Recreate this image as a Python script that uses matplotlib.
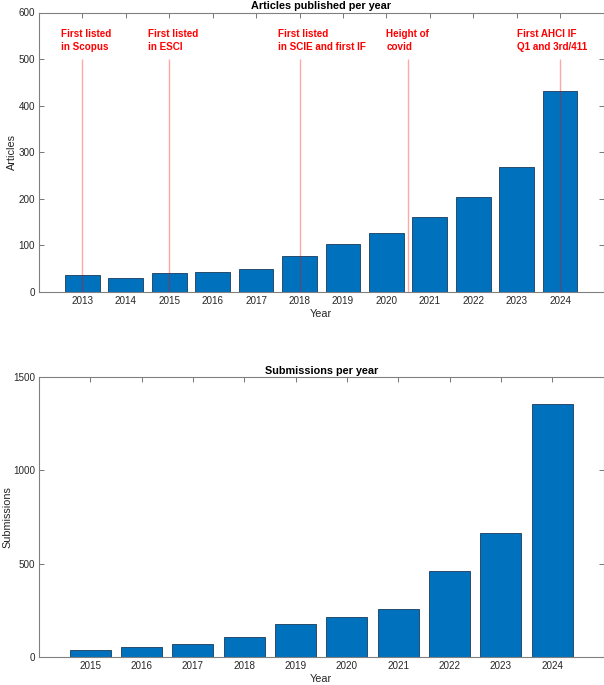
import matplotlib
matplotlib.use("Agg")
import matplotlib.pyplot as plt

plt.rcParams['font.family'] = ['Liberation Sans', 'DejaVu Sans']

# Data
art_years = [2013, 2014, 2015, 2016, 2017, 2018, 2019, 2020, 2021, 2022, 2023, 2024]
art_counts = [36, 29, 40, 44, 50, 77, 102, 126, 160, 204, 269, 431]

sub_years = [2015, 2016, 2017, 2018, 2019, 2020, 2021, 2022, 2023, 2024]
sub_counts = [36, 52, 70, 106, 174, 211, 258, 458, 664, 1358]

event_x = [2013, 2015, 2018, 2020.5, 2024]
event_top = 500
label_x = [2012.5, 2014.5, 2017.5, 2020.0, 2023.0]
label_texts = ["First listed\nin Scopus", "First listed\nin ESCI",
               "First listed\nin SCIE and first IF", "Height of\ncovid",
               "First AHCI IF\nQ1 and 3rd/411"]
label_y = 540

BLUE = '#0072BD'
AXC = '#262626'

fig = plt.figure(figsize=(6.04, 6.85), dpi=100)
W, H = 604, 685

def mkax(x0, y0, x1, y1):
    return fig.add_axes([x0 / W, 1 - y1 / H, (x1 - x0) / W, (y1 - y0) / H])

def style(ax):
    for s in ax.spines.values():
        s.set_color('#808080')
        s.set_linewidth(0.8)
    ax.tick_params(direction='in', top=True, right=True, length=3.5, width=0.6,
                   color='#606060', labelcolor=AXC, labelsize=7.1, pad=3)

ax1 = mkax(39, 12.5, 603.5, 292)
ax1.bar(art_years, art_counts, width=0.8, color=BLUE, edgecolor='#1a3a5a', linewidth=0.6, zorder=2)
ax1.vlines(event_x, 0, event_top, colors='red', alpha=0.35, linewidth=1.0, zorder=3)
for x, t in zip(label_x, label_texts):
    ax1.text(x, label_y, t, color='red', fontsize=7.1, fontweight='bold',
             ha='left', va='center', linespacing=1.4, zorder=4)
ax1.set_xlim(2012, 2025)
ax1.set_ylim(0, 600)
ax1.set_xticks(art_years)
ax1.set_yticks([0, 100, 200, 300, 400, 500, 600])
style(ax1)
ax1.set_title('Articles published per year', fontsize=7.8, fontweight='bold', pad=2.5)
ax1.set_xlabel('Year', fontsize=7.8, color=AXC, labelpad=2)
ax1.set_ylabel('Articles', fontsize=7.8, color=AXC, labelpad=1)

ax2 = mkax(39, 377.3, 603.5, 656.7)
ax2.bar(sub_years, sub_counts, width=0.8, color=BLUE, edgecolor='#1a3a5a', linewidth=0.6, zorder=2)
ax2.set_xlim(2014, 2025)
ax2.set_ylim(0, 1500)
ax2.set_xticks(sub_years)
ax2.set_yticks([0, 500, 1000, 1500])
style(ax2)
ax2.set_title('Submissions per year', fontsize=7.8, fontweight='bold', pad=2.5)
ax2.set_xlabel('Year', fontsize=7.8, color=AXC, labelpad=2)
ax2.set_ylabel('Submissions', fontsize=7.8, color=AXC, labelpad=0.5)

fig.savefig('out.png', dpi=100)
